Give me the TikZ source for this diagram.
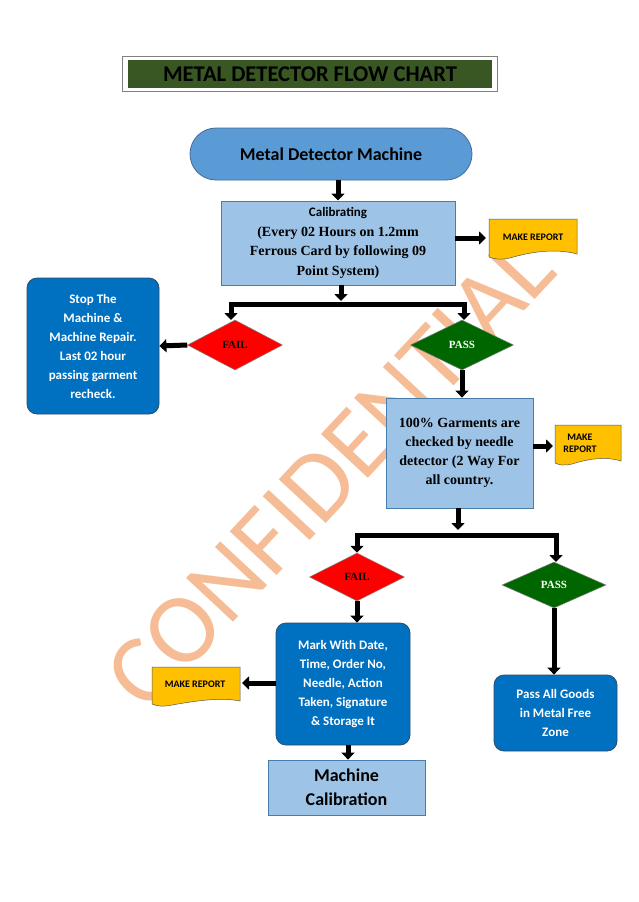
\documentclass[tikz,border=0pt]{standalone}
\usepackage{fontspec}
\setmainfont{Carlito}
\newfontfamily\tms{Liberation Serif}
\usetikzlibrary{shapes.geometric,arrows.meta}
\definecolor{mblue}{HTML}{5B9BD5}
\definecolor{lblue}{HTML}{9DC3E6}
\definecolor{dblue}{HTML}{0070C0}
\definecolor{ygold}{HTML}{FFC000}
\definecolor{tgreen}{HTML}{385723}
\definecolor{pgreen}{HTML}{006600}
\definecolor{wm}{HTML}{F4B183}
\begin{document}
\begin{tikzpicture}[x=1pt,y=-1pt,
  arr/.style={line width=5pt,-{Triangle[width=13pt,length=7pt]}},
  bar/.style={line width=5pt},
  lbox/.style={draw=mblue!80!black,fill=lblue,line width=0.8pt,align=center,font=\bfseries},
  rbox/.style={draw=mblue!50!black,fill=dblue,rounded corners=10pt,line width=0.8pt,align=center,text=white,font=\bfseries\fontsize{13}{19}\selectfont},
  dia/.style={diamond,aspect=1.9,inner sep=0pt,draw=gray,line width=0.5pt,font=\tms\bfseries\fontsize{11}{13}\selectfont},
  rep/.style={font=\bfseries\fontsize{10}{12}\selectfont,align=center}]
\useasboundingbox (0,0) rectangle (638,902);
\fill[white] (0,0) rectangle (638,902);
% watermark
\node[rotate=47,text=wm,opacity=0.85,font=\fontsize{100}{100}\selectfont] (wmk) at (330,472) {CONFIDENTIAL};
% title
\draw[gray,line width=0.6pt,fill=white] (122,56) rectangle (497,91);
\node[fill=tgreen,minimum width=364pt,minimum height=28pt,inner sep=0pt,font=\bfseries\fontsize{22.5}{24}\selectfont] (title) at (310,74) {METAL DETECTOR FLOW CHART};
% start
\node[draw=mblue!70!black,fill=mblue,rounded corners=26pt,minimum width=282pt,minimum height=52pt,font=\bfseries\fontsize{18}{20}\selectfont,line width=0.8pt] (start) at (331,154) {Metal Detector Machine};
\node[lbox,minimum width=234pt,minimum height=84pt,inner sep=2pt,font=\bfseries\fontsize{14}{19.5}\selectfont] (cal) at (338,243) {{\fontsize{13}{19.5}\selectfont Calibrating}\\ {\tms (Every 02 Hours on 1.2mm}\\ {\tms Ferrous Card by following 09}\\ {\tms Point System)}};
\draw[arr] (start.south -| 338,0) -- (338,200.5);
% make report 1
\fill[ygold,draw=gray!70!black,line width=0.5pt] (489,219) -- (577,219) -- (577,254) .. controls (555,248) and (530,252) .. (510,258) .. controls (500,260) and (494,259) .. (489,257) -- cycle;
\node[rep] (rep1) at (533,237) {MAKE REPORT};
\draw[arr] (cal.east |- 0,238) -- (486,238);
% branch 1
\node[dia,fill=red,minimum width=95pt,minimum height=50pt] (fail1) at (235,345) {FAIL};
\node[dia,fill=pgreen,text=white,minimum width=103pt,minimum height=50pt] (pass1) at (462,345) {PASS};
\draw[arr] (341,285) -- (341,301);
\draw[bar] (231,304) -- (464,304);
\draw[arr] (231,302) -- (231,320);
\draw[arr] (464,302) -- (464,320);
\node[rbox,minimum width=132pt,minimum height=136pt] (stop) at (93,346) {Stop The\\Machine \&\\Machine Repair.\\Last 02 hour\\passing garment\\recheck.};
\draw[arr] (fail1.west) -- (stop.east);
\node[lbox,minimum width=147pt,minimum height=110pt,font=\tms\bfseries\fontsize{14}{19}\selectfont] (chk) at (459.5,453) {100\% Garments are\\checked by needle\\detector (2 Way For\\all country.};
\draw[arr] (pass1.south) -- (chk.north -| pass1.south);
\fill[ygold,draw=gray!70!black,line width=0.5pt] (555,425) -- (621,425) -- (621,461) .. controls (605,456) and (588,459) .. (572,464) .. controls (564,466) and (559,465) .. (555,463) -- cycle;
\node[rep] (rep2) at (580,443) {MAKE\\REPORT};
\draw[arr] (chk.east |- 0,446) -- (553,446);
% branch 2
\draw[arr] (458,508) -- (458,530);
\draw[bar] (357,535) -- (556,535);
\node[dia,fill=red,minimum width=95pt,minimum height=48pt] (fail2) at (357,577) {FAIL};
\node[dia,fill=pgreen,text=white,minimum width=104pt,minimum height=46pt] (pass2) at (554,585) {PASS};
\draw[arr] (357,533) -- (fail2.north);
\draw[arr] (556,533) -- (556,562);
\node[rbox,minimum width=134pt,minimum height=122pt] (mark) at (343,684) {Mark With Date,\\Time, Order No,\\Needle, Action\\Taken, Signature\\\& Storage It};
\draw[arr] (fail2.south) -- (mark.north -| fail2.south);
\fill[ygold,draw=gray!70!black,line width=0.5pt] (152,667) -- (240,667) -- (240,701) .. controls (220,697) and (195,701) .. (172,705) .. controls (162,707) and (157,706) .. (152,704) -- cycle;
\node[rep] (rep3) at (195,684) {MAKE REPORT};
\draw[arr] (mark.west |- 0,683) -- (242,683);
\node[lbox,minimum width=157pt,minimum height=55pt,font=\bfseries\fontsize{18}{24}\selectfont] (mc) at (346.5,787.5) {Machine\\Calibration};
\draw[arr] (348,745) -- (mc.north -| 348,0);
\node[rbox,minimum width=123pt,minimum height=76pt] (good) at (555.5,713) {Pass All Goods\\in Metal Free\\Zone};
\draw[arr] (pass2.south -| 554,0) -- (good.north -| 554,0);
\end{tikzpicture}
\end{document}
